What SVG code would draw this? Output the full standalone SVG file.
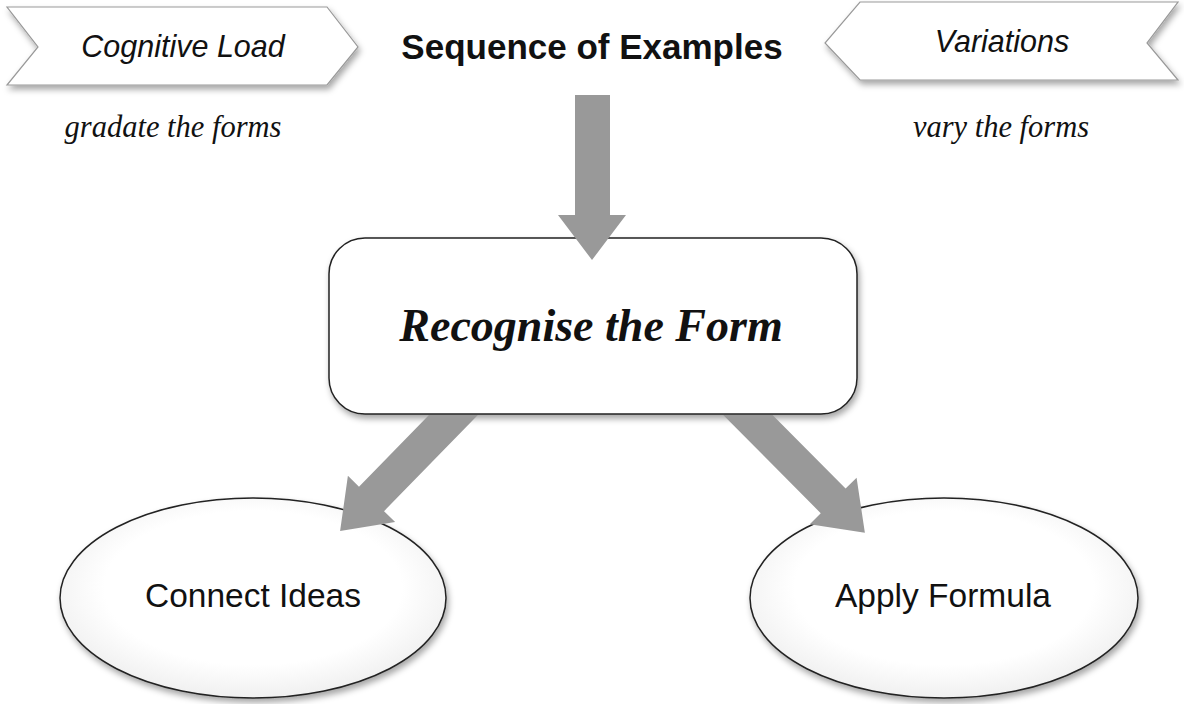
<svg xmlns="http://www.w3.org/2000/svg" width="1184" height="704" viewBox="0 0 1184 704">
<defs>
  <filter id="sh" x="-10%" y="-10%" width="125%" height="130%">
    <feDropShadow dx="2" dy="4" stdDeviation="3" flood-color="#000" flood-opacity="0.35"/>
  </filter>
  <radialGradient id="eg" cx="50%" cy="45%" r="55%">
    <stop offset="0.7" stop-color="#ffffff"/>
    <stop offset="1" stop-color="#f0f0f0"/>
  </radialGradient>
  <clipPath id="below">
    <rect x="0" y="415" width="1184" height="289"/>
  </clipPath>
</defs>
<style>
  .sans{font-family:"Liberation Sans",Arial,sans-serif;fill:#111}
  .serif{font-family:"Liberation Serif","Times New Roman",serif;fill:#111}
  .chev{fill:#fff;stroke:#999;stroke-width:1.2;filter:url(#sh)}
  .node{stroke:#222;stroke-width:1.5;filter:url(#sh)}
  .conn{fill:#999}
</style>
<rect width="1184" height="704" fill="#fff"/>

<g id="cognitive-load">
  <polygon class="chev" points="7,7 327,7 358,47 327,85 7,85 38,47"/>
  <text class="sans" x="183" y="57" font-size="30.5" font-style="italic" text-anchor="middle">Cognitive Load</text>
</g>
<g id="variations">
  <polygon class="chev" points="860,2 1178,2 1147,43 1178,80 860,80 825,43"/>
  <text class="sans" x="1002" y="52" font-size="30.5" font-style="italic" text-anchor="middle">Variations</text>
</g>
<g id="title">
  <text class="sans" x="592" y="59" font-size="35" font-weight="bold" text-anchor="middle">Sequence of Examples</text>
</g>
<g id="label-gradate">
  <text class="serif" x="173" y="137" font-size="30.5" font-style="italic" text-anchor="middle">gradate the forms</text>
</g>
<g id="label-vary">
  <text class="serif" x="1001" y="137" font-size="30.5" font-style="italic" text-anchor="middle">vary the forms</text>
</g>

<g id="connect-ideas">
  <ellipse class="node" cx="253" cy="598" rx="193" ry="100" fill="url(#eg)"/>
  <text class="sans" x="253" y="607" font-size="33.5" text-anchor="middle">Connect Ideas</text>
</g>
<g id="apply-formula">
  <ellipse class="node" cx="944" cy="598" rx="194" ry="100" fill="url(#eg)"/>
  <text class="sans" x="943" y="607" font-size="33.5" text-anchor="middle">Apply Formula</text>
</g>

<g id="recognise-the-form">
  <rect class="node" x="329" y="238" width="528" height="176" rx="36" ry="36" fill="#fff"/>
  <text class="serif" x="591" y="341" font-size="46" font-weight="bold" font-style="italic" text-anchor="middle">Recognise the Form</text>
</g>

<g id="connectors">
  <polygon class="conn" points="575,95 610,95 610,215 626,215 592,260 558,215 575,215"/>
  <g clip-path="url(#below)">
    <g transform="translate(470,398) rotate(44.3)">
      <polygon class="conn" points="-17.5,0 17.5,0 17.5,141 33,141 0,186 -33,141 -17.5,141"/>
    </g>
    <g transform="translate(731,398) rotate(-44.8)">
      <polygon class="conn" points="-17.5,0 17.5,0 17.5,145 33,145 0,190 -33,145 -17.5,145"/>
    </g>
  </g>
</g>
</svg>
